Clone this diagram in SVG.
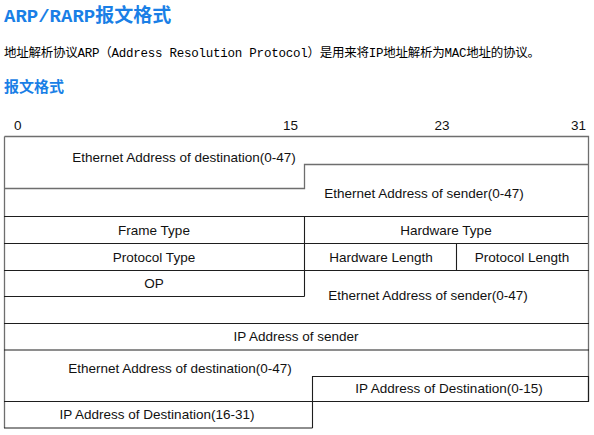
<svg xmlns="http://www.w3.org/2000/svg" width="594" height="435" viewBox="0 0 594 435">
<style>
.h{font-family:"Liberation Mono","Noto Sans CJK SC",monospace;font-weight:bold;fill:#1a7fe6}
.p{font-family:"Liberation Mono","Noto Sans CJK SC",monospace;font-size:12.5px;fill:#000}
.t{font-family:"Liberation Sans",Arial,sans-serif;font-size:13.5px;fill:#111;text-anchor:middle}
.n{font-family:"Liberation Sans",Arial,sans-serif;font-size:13.5px;fill:#111}
.g{fill:none;stroke:#6e6e6e;stroke-width:1.3}
.d{fill:none;stroke:#1e1e1e;stroke-width:1.1}
</style>
<rect width="594" height="435" fill="#fff"/>
<text class="h" x="4" y="22" font-size="19">ARP/RARP报文格式</text>
<text class="p" x="4" y="57" textLength="536" lengthAdjust="spacing">地址解析协议ARP（Address Resolution Protocol）是用来将IP地址解析为MAC地址的协议。</text>
<text class="h" x="4" y="92" font-size="15">报文格式</text>
<g id="bits">
<text class="n" x="14" y="130">0</text>
<text class="n" x="298" y="130" text-anchor="end">15</text>
<text class="n" x="442" y="130" text-anchor="middle">23</text>
<text class="n" x="586" y="130" text-anchor="end">31</text>
</g>
<g id="lines">
<path class="g" d="M4.5 136.5H588.5V216M4.5 136.5V428M4.5 188.5H304.5V164.5H588.5"/>
<path class="g" d="M588.5 270V401.5"/>
<path class="d" d="M4 216.5H589M304.5 216V296.5M4 243.5H589M456.5 243V270M4 270.5H589M4 296.5H304.5M4 323.5H589M4 350H589"/>
<path class="g" d="M588.5 216V270"/>
<path class="d" d="M4 401.5H312.5M312.5 428V376.5H588.5V401.5H312.5M4 428H312.5"/>
</g>
<g id="eth-dst"><text class="t" x="184" y="162">Ethernet Address of destination(0-47)</text></g>
<g id="eth-src"><text class="t" x="424" y="198">Ethernet Address of sender(0-47)</text></g>
<g id="frame-type"><text class="t" x="154" y="234.5">Frame Type</text></g>
<g id="hw-type"><text class="t" x="446" y="234.5">Hardware Type</text></g>
<g id="proto-type"><text class="t" x="154" y="261.5">Protocol Type</text></g>
<g id="hw-len"><text class="t" x="381" y="261.5">Hardware Length</text></g>
<g id="proto-len"><text class="t" x="522" y="261.5">Protocol Length</text></g>
<g id="op"><text class="t" x="154" y="287.5">OP</text></g>
<g id="eth-src2"><text class="t" x="428" y="300">Ethernet Address of sender(0-47)</text></g>
<g id="ip-src"><text class="t" x="296" y="340.5">IP Address of sender</text></g>
<g id="eth-dst2"><text class="t" x="180" y="373">Ethernet Address of destination(0-47)</text></g>
<g id="ip-dst1"><text class="t" x="449" y="392.5">IP Address of Destination(0-15)</text></g>
<g id="ip-dst2"><text class="t" x="157" y="418.5">IP Address of Destination(16-31)</text></g>
</svg>
